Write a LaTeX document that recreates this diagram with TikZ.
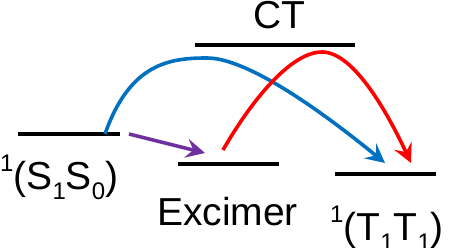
\documentclass[tikz,border=0pt]{standalone}
\usepackage{fontspec}
\setmainfont{Liberation Sans}
\usetikzlibrary{arrows.meta}
\newcommand{\Msub}[1]{\raisebox{-10pt}{\fontsize{24}{24}\selectfont #1}}
\newcommand{\Msup}[1]{\raisebox{18pt}{\fontsize{24}{24}\selectfont #1}}
\definecolor{cblue}{HTML}{0070C0}
\definecolor{cred}{HTML}{FF0000}
\definecolor{cpurple}{HTML}{7030A0}
\begin{document}
\begin{tikzpicture}[x=1pt,y=1pt,
  level/.style={line width=3.6pt},
  lab/.style={font=\fontsize{39}{40}\selectfont, inner sep=0pt},
  arr/.style={line width=3.6pt, -{Stealth[length=19pt,width=19pt,inset=7pt]}}]
\useasboundingbox (0,0) rectangle (450,248);
\clip (0,0) rectangle (450,248);
% levels
\coordinate (s1L) at (18,114);  \coordinate (s1R) at (120,114);
\coordinate (exL) at (178,84);  \coordinate (exR) at (279,84);
\coordinate (ttL) at (335,74);  \coordinate (ttR) at (436,74);
\coordinate (ctL) at (195,203); \coordinate (ctR) at (355,203);
\draw[level] (s1L) -- (s1R);
\draw[level] (exL) -- (exR);
\draw[level] (ttL) -- (ttR);
\draw[level] (ctL) -- (ctR);
% labels
\node[lab, anchor=base] (ctlab) at (279,219) {CT};
\node[lab, anchor=base] (exlab) at (227.5,22) {Excimer};
\node[lab, anchor=base west] (s1lab) at (0,58) {\Msup{1}(S\Msub{1}S\Msub{0})};
\node[lab, anchor=base west] (ttlab) at (330,7) {\Msup{1}(T\Msub{1}T\Msub{1})};
% arrows
\coordinate (bS) at (105,114); \coordinate (bP) at (207,190); \coordinate (bE) at (385,85);
\coordinate (rS) at (223,98);  \coordinate (rP) at (322,196); \coordinate (rE) at (411,85);
\coordinate (pS) at (129,114); \coordinate (pE) at (205,95);
\draw[arr, cblue] (bS) .. controls (130,185) and (170,190) .. (bP)
  .. controls (250,190) and (330,130) .. (bE);
\draw[arr, cred] (rS) .. controls (250,145) and (290,196) .. (rP)
  .. controls (355,196) and (390,130) .. (rE);
\draw[arr, cpurple] (pS) -- (pE);
\end{tikzpicture}
\end{document}
